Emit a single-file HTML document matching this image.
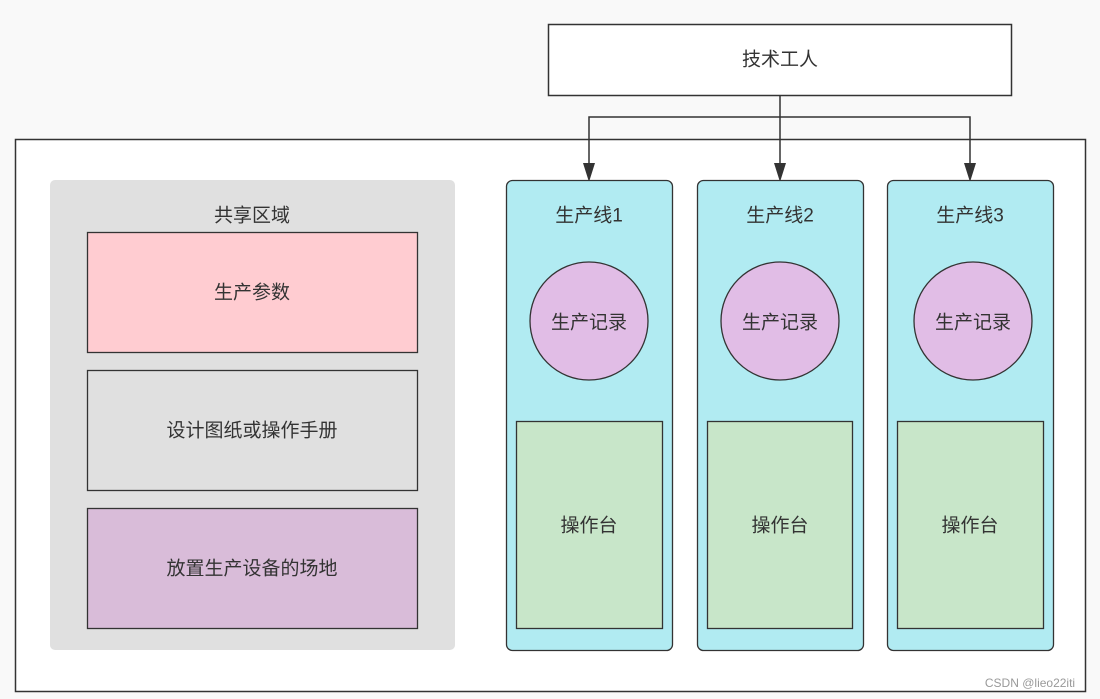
<!DOCTYPE html>
<html><head><meta charset="utf-8"><style>
body{margin:0;background:#f9f9f9;}
svg{display:block;font-family:"Liberation Sans","Noto Sans CJK SC",sans-serif;}
text{font-size:19px;fill:#333;text-anchor:middle;dominant-baseline:central;}
</style></head><body>
<svg width="1100" height="699" viewBox="0 0 1100 699">
<rect x="0" y="0" width="1100" height="699" fill="#f9f9f9"/>
<rect x="15.5" y="139.5" width="1070" height="552" fill="#fff" stroke="#333" stroke-width="1.5"/>
<rect x="548.5" y="24.5" width="463" height="71" fill="#fff" stroke="#333" stroke-width="1.5"/>
<text x="780" y="60">技术工人</text>
<path d="M780 95V117M589 165V117H970V165M780 117V165" fill="none" stroke="#333" stroke-width="1.5"/>
<path d="M583 163L595 163L589 182Z M774 163L786 163L780 182Z M964 163L976 163L970 182Z" fill="#333"/>
<rect x="50" y="180" width="405" height="470" rx="5" fill="#e0e0e0"/>
<text x="252" y="216">共享区域</text>
<rect x="87.5" y="232.5" width="330" height="120" fill="#ffccd1" stroke="#333" stroke-width="1.3"/>
<text x="252" y="293">生产参数</text>
<rect x="87.5" y="370.5" width="330" height="120" fill="#e0e0e0" stroke="#333" stroke-width="1.3"/>
<text x="252" y="431">设计图纸或操作手册</text>
<rect x="87.5" y="508.5" width="330" height="120" fill="#d9bcd9" stroke="#333" stroke-width="1.3"/>
<text x="252" y="569">放置生产设备的场地</text>
<g stroke="#333" stroke-width="1.3">
<rect x="506.5" y="180.5" width="166" height="470" rx="6" fill="#b1ebf2"/>
<rect x="697.5" y="180.5" width="166" height="470" rx="6" fill="#b1ebf2"/>
<rect x="887.5" y="180.5" width="166" height="470" rx="6" fill="#b1ebf2"/>
<circle cx="589" cy="321" r="59" fill="#e1bde6"/>
<circle cx="780" cy="321" r="59" fill="#e1bde6"/>
<circle cx="973" cy="321" r="59" fill="#e1bde6"/>
<rect x="516.5" y="421.5" width="146" height="207" fill="#c8e6c9"/>
<rect x="707.5" y="421.5" width="145" height="207" fill="#c8e6c9"/>
<rect x="897.5" y="421.5" width="146" height="207" fill="#c8e6c9"/>
</g>
<text x="589" y="216">生产线1</text><text x="780" y="216">生产线2</text><text x="970" y="216">生产线3</text>
<text x="589" y="323">生产记录</text><text x="780" y="323">生产记录</text><text x="973" y="323">生产记录</text>
<text x="589" y="526">操作台</text><text x="780" y="526">操作台</text><text x="970" y="526">操作台</text>
<text x="1030" y="683" style="font-size:12px;fill:#999">CSDN @lieo22iti</text>
</svg>
</body></html>
